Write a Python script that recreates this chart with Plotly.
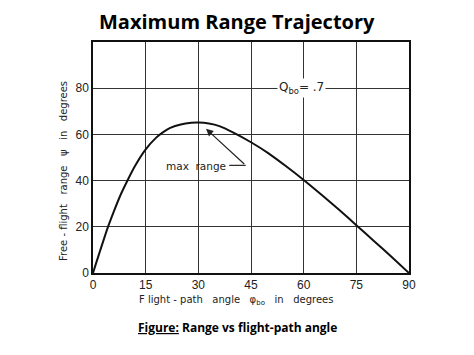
import plotly.graph_objects as go

# Flight-path angle (deg) and free-flight range angle (deg)
phi_bo = [0, 1, 2, 4, 6, 8, 10, 12, 15, 18, 20, 22, 25, 28, 30, 33, 36, 40, 45, 50, 55, 60, 65, 70, 75, 80, 85, 90]
psi = [0, 4.8, 9.5, 18.8, 26.9, 34.3, 40.6, 46.4, 53.5, 58.6, 61, 62.8, 64.3, 65, 65.1, 64.7, 63.6, 60.8, 56.6, 51.8, 46.2, 40.3, 34, 27.5, 20.7, 13.9, 7, 0]

x_ticks = [0, 15, 30, 45, 60, 75, 90]
y_ticks = [0, 20, 40, 60, 80]

L, R, T, B = 93, 65, 42, 82
W, H = 474, 355
pw, ph = W - L - R, H - T - B


def px(xp):
    return (xp - L) / pw


def py(yp):
    return (H - B - yp) / ph


tick_font = dict(family="Liberation Sans", size=12, color="#222")
lab_font = dict(family="DejaVu Sans", size=10, color="#222")

fig = go.Figure()
fig.add_trace(go.Scatter(x=phi_bo, y=psi, mode="lines",
                         line=dict(color="#111", width=2, shape="spline", smoothing=0.5),
                         hoverinfo="skip", showlegend=False))

fig.update_xaxes(range=[0, 90], tickvals=x_ticks, ticktext=[str(v) for v in x_ticks],
                 showgrid=True, gridcolor="#333", gridwidth=1, zeroline=False,
                 showline=True, linecolor="#111", linewidth=1.5, mirror=True,
                 ticks="", tickfont=tick_font)
fig.update_yaxes(range=[0, 100], tickvals=y_ticks, ticktext=[str(v) for v in y_ticks],
                 showgrid=True, gridcolor="#333", gridwidth=1, zeroline=False,
                 showline=True, linecolor="#111", linewidth=1.5, mirror=True,
                 ticks="", tickfont=tick_font)

ann = []
ann.append(dict(xref="paper", yref="paper", x=px(237), y=py(21), text="<b>Maximum Range Trajectory</b>",
                showarrow=False, font=dict(family="Open Sans", size=20, color="#000"),
                xanchor="center", yanchor="middle"))
ann.append(dict(xref="paper", yref="paper", x=px(237), y=py(327),
                text="<b><u>Figure:</u> Range vs flight-path angle</b>",
                showarrow=False, font=dict(family="Open Sans", size=12, color="#000"),
                xanchor="center", yanchor="middle"))
ann.append(dict(xref="paper", yref="paper", x=px(236), y=py(300),
                text="F light - path   angle   φ<sub>bo</sub>   in   degrees",
                showarrow=False, font=lab_font, xanchor="center", yanchor="middle"))
ann.append(dict(xref="paper", yref="paper", x=px(63), y=py(171),
                text="Free - flight   range   ψ   in   degrees", textangle=-90,
                showarrow=False, font=lab_font, xanchor="center", yanchor="middle"))
ann.append(dict(x=59.5, y=80, text="Q<sub>bo</sub>= .7", showarrow=False,
                font=dict(family="DejaVu Sans", size=12, color="#222"),
                bgcolor="white", xanchor="center", yanchor="middle"))
ann.append(dict(x=29.2, y=46.3, text="max  range", showarrow=False,
                font=dict(family="DejaVu Sans", size=10.5, color="#222"),
                xanchor="center", yanchor="middle"))
ann.append(dict(x=32.2, y=62.4, ax=43.5, ay=46.6, axref="x", ayref="y",
                text="", showarrow=True, arrowhead=2, arrowsize=1.2, arrowwidth=1.2,
                arrowcolor="#222"))
fig.update_layout(annotations=ann)
fig.add_shape(type="line", x0=38.8, x1=43.5, y0=46.6, y1=46.6,
              line=dict(color="#222", width=1.2))

fig.update_layout(width=W, height=H, margin=dict(l=L, r=R, t=T, b=B),
                  paper_bgcolor="white", plot_bgcolor="white", showlegend=False)
fig.write_html("out.html")
